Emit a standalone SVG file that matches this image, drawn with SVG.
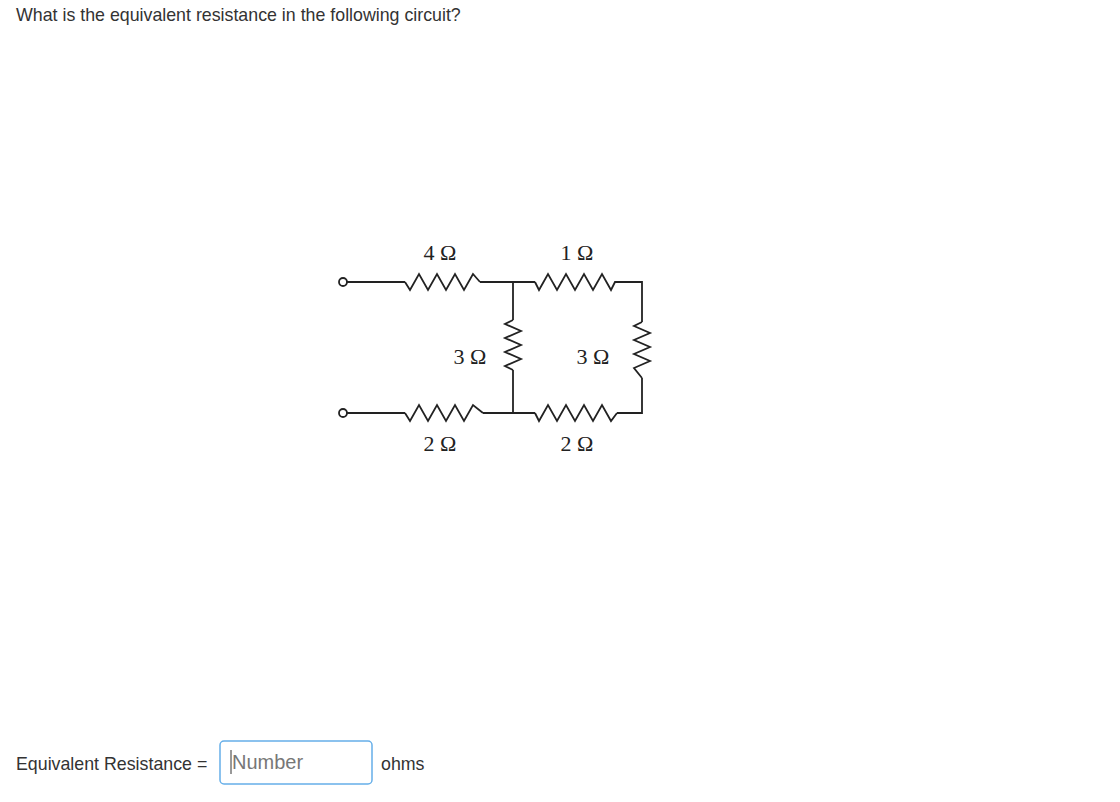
<svg xmlns="http://www.w3.org/2000/svg" width="1120" height="802" viewBox="0 0 1120 802">
<style>
.t{font-family:"Liberation Sans",Arial,sans-serif;font-size:17.8px;fill:#333}
.l{font-family:"Liberation Serif","Times New Roman",serif;font-size:22px;fill:#222}
.w{fill:none;stroke:#222;stroke-width:1.8;stroke-linejoin:miter}
</style>
<rect width="1120" height="802" fill="#fff"/>
<text class="t" x="16" y="21">What is the equivalent resistance in the following circuit?</text>
<g id="connectors">
<circle class="w" cx="343" cy="282" r="4"/>
<circle class="w" cx="343" cy="413" r="4"/>
<path class="w" d="M347 282H405M480 282H535M620 282H642V322M513 282V320M513 370V413M347 413H405M483 413H535M617 413H642V378"/>
</g>
<g id="r4"><path class="w" d="M405 282L410 290L419 274L428 290L437 274L446 290L455 274L464 290L473 274L480 282"/><text class="l" x="440" y="260" text-anchor="middle">4 Ω</text></g>
<g id="r1"><path class="w" d="M535 282L539 290L548 274L557 290L566 274L575 290L584 274L593 290L602 274L611 290L615 282L620 282"/><text class="l" x="577" y="260" text-anchor="middle">1 Ω</text></g>
<g id="r3a"><path class="w" d="M513 320L505 324L521 331L505 338L521 345L505 352L521 359L505 366L513 370"/><text class="l" x="470" y="364" text-anchor="middle">3 Ω</text></g>
<g id="r3b"><path class="w" d="M642 322L634 326L650 333L634 340L650 347L634 354L650 361L634 368L642 378"/><text class="l" x="593" y="364" text-anchor="middle">3 Ω</text></g>
<g id="r2a"><path class="w" d="M405 413L410 421L419 405L428 421L437 405L446 421L455 405L464 421L473 405L483 413"/><text class="l" x="440" y="451" text-anchor="middle">2 Ω</text></g>
<g id="r2b"><path class="w" d="M535 413L539 421L548 405L557 421L566 405L575 421L584 405L593 421L602 405L611 421L617 413"/><text class="l" x="577" y="451" text-anchor="middle">2 Ω</text></g>
<text class="t" x="16" y="770">Equivalent Resistance =</text>
<g id="input">
<rect x="220" y="741" width="152" height="43" rx="4" fill="#fff" stroke="#66afe9" stroke-width="1.5"/>
<line x1="231" y1="750" x2="231" y2="774" stroke="#333" stroke-width="1"/>
<text x="232" y="769" font-family="Liberation Sans,Arial,sans-serif" font-size="20" fill="#777">Number</text>
</g>
<text class="t" x="381" y="770">ohms</text>
</svg>
